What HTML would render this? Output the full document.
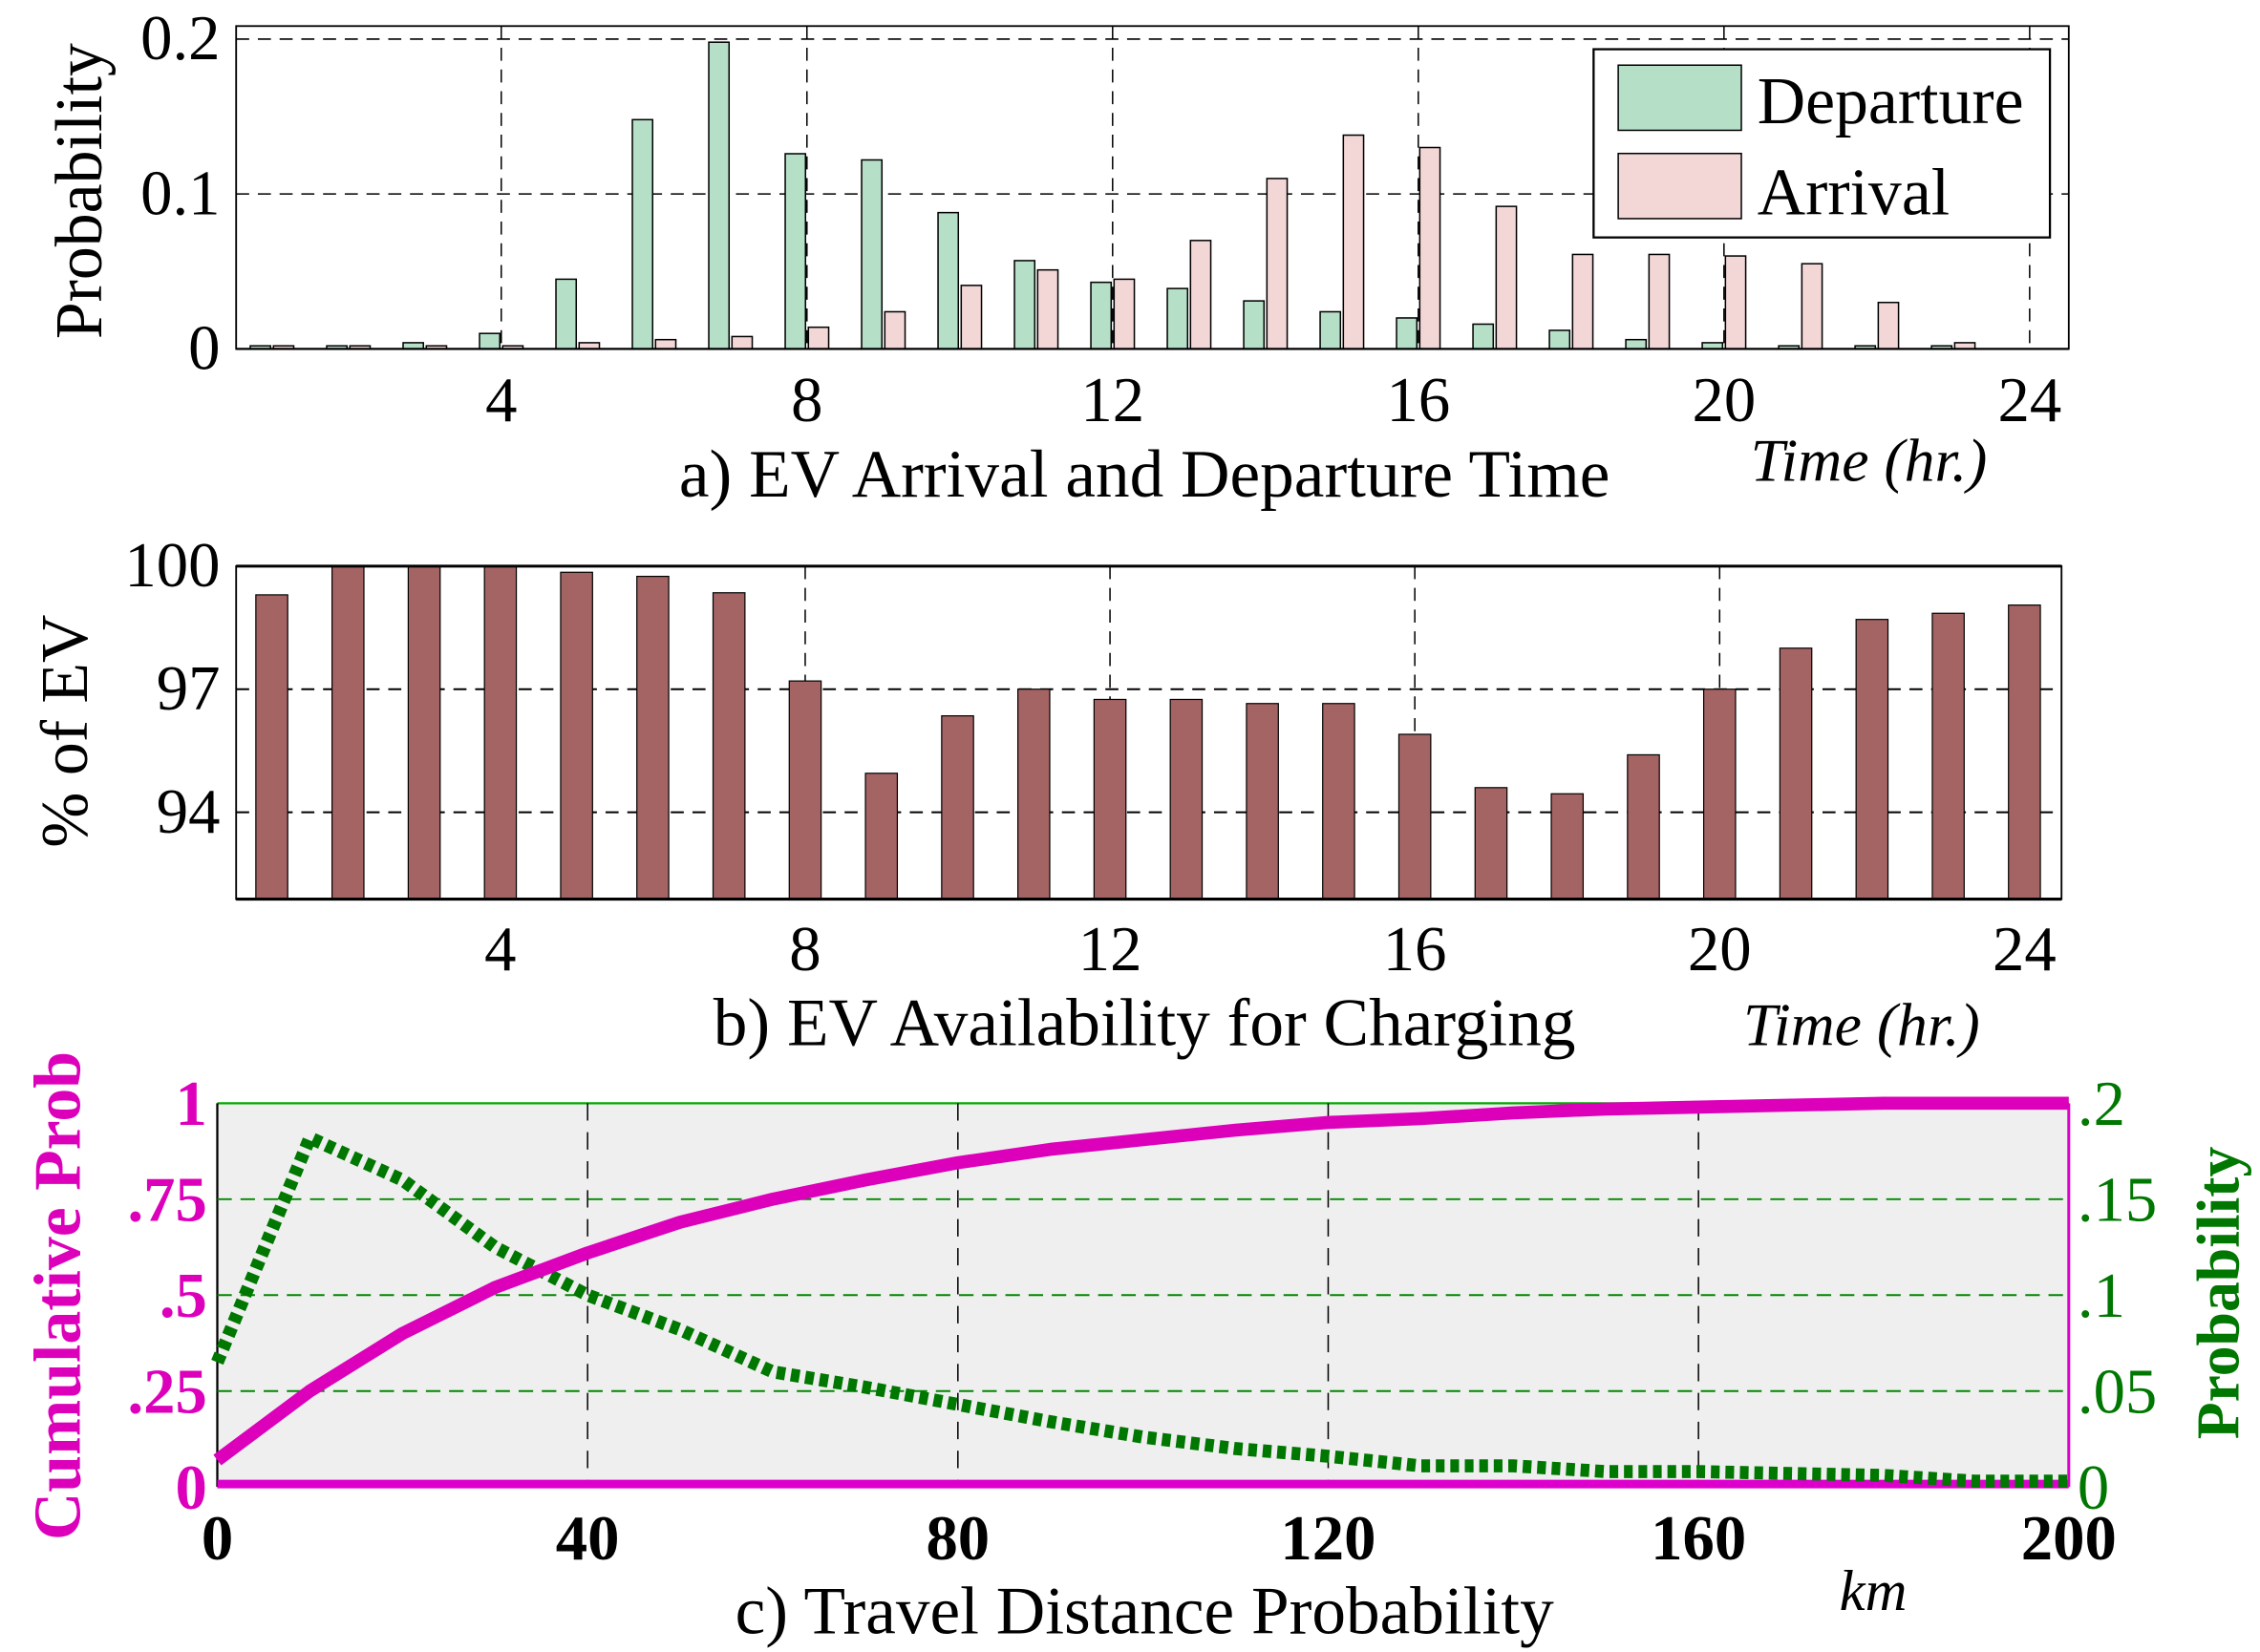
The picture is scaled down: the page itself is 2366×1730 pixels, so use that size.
<!DOCTYPE html>
<html><head><meta charset="utf-8"><style>
html,body{margin:0;padding:0;background:#fff}
svg{display:block}
text{font-family:"Liberation Serif",serif}
</style></head><body>
<svg id="chart" width="2366" height="1730" viewBox="0 0 1560 1141" preserveAspectRatio="none" xmlns="http://www.w3.org/2000/svg">
<g id="pa"></g>
<g id="pb"></g>
<g id="pc"></g>
</svg>
<script>
// Panel a data
const hoursA = [1,2,3,4,5,6,7,8,9,10,11,12,13,14,15,16,17,18,19,20,21,22,23];
const departure = [.002,.002,.004,.01,.045,.148,.198,.126,.122,.088,.057,.043,.039,.031,.024,.02,.016,.012,.006,.004,.002,.002,.002];
const arrival = [.002,.002,.002,.002,.004,.006,.008,.014,.024,.041,.051,.045,.07,.11,.138,.13,.092,.061,.061,.06,.055,.03,.004];
const ticksA = [4,8,12,16,20,24];
const yTicksA = [0,0.1,0.2];
const yLabelsA = ["0","0.1","0.2"];
// Panel b data
const hoursB = [1,2,3,4,5,6,7,8,9,10,11,12,13,14,15,16,17,18,19,20,21,22,23,24];
const availability = [99.3,100,100,100,99.85,99.75,99.35,97.2,94.95,96.35,97.0,96.75,96.75,96.65,96.65,95.9,94.6,94.45,95.4,97.0,98.0,98.7,98.85,99.05];
const yTicksB = [94,97,100];
// Panel c data
const km = [0,10,20,30,40,50,60,70,80,90,100,110,120,130,140,150,160,170,180,190,200];
const cumulative = [.07,.25,.4,.52,.61,.69,.75,.8,.845,.88,.905,.93,.95,.96,.975,.985,.99,.995,1,1,1];
const probability = [.065,.182,.16,.125,.1,.082,.06,.052,.043,.034,.026,.02,.016,.011,.011,.008,.008,.007,.006,.003,.003];
const ticksC = [0,40,80,120,160,200];
const yTicksCL = [0,.25,.5,.75,1];
const yLabelsCL = ["0",".25",".5",".75","1"];
const yTicksCR = [0,.05,.1,.15,.2];
const yLabelsCR = ["0",".05",".1",".15",".2"];

const NS="http://www.w3.org/2000/svg";
function mk(parent,tag,attrs,txt){const e=document.createElementNS(NS,tag);for(const k in attrs)e.setAttribute(k,attrs[k]);if(txt!==undefined)e.textContent=txt;parent.appendChild(e);return e;}

// ---------- Panel A ----------
const pa=document.getElementById('pa');
const xA=h=>135+52.75*h, yA=v=>241-v*1070;
mk(pa,'rect',{x:163,y:18,width:1265,height:223,fill:'#fff',stroke:'#000','stroke-width':1.2});
ticksA.forEach(t=>{const l=mk(pa,'line',{x1:xA(t),x2:xA(t),y1:18,y2:241,stroke:'#000','stroke-dasharray':'9 6','stroke-width':1});
});
yTicksA.forEach((t,i)=>{if(t>0){const l=mk(pa,'line',{x1:163,x2:1428,y1:yA(t),y2:yA(t),stroke:'#000','stroke-dasharray':'9 6','stroke-width':1});
}
const tx=mk(pa,'text',{x:152,y:yA(t)+14,'text-anchor':'end','font-size':44},yLabelsA[i]);
});
hoursA.forEach((h,i)=>{
 const d=mk(pa,'rect',{x:xA(h)-15,y:yA(departure[i]),width:14,height:241-yA(departure[i]),fill:'#b6dfc8',stroke:'#000','stroke-width':1});
 
 const a=mk(pa,'rect',{x:xA(h)+1,y:yA(arrival[i]),width:14,height:241-yA(arrival[i]),fill:'#f3d6d6',stroke:'#000','stroke-width':1});
 
});
mk(pa,'line',{x1:163,x2:1428,y1:241,y2:241,stroke:'#000','stroke-width':1.5});
ticksA.forEach(t=>{const tx=mk(pa,'text',{x:xA(t),y:291,'text-anchor':'middle','font-size':44},String(t));
});
{const lg=mk(pa,'g',{});
mk(lg,'rect',{x:1100,y:34,width:315,height:130,fill:'#fff',stroke:'#000','stroke-width':1.5});
mk(lg,'rect',{x:1117,y:45,width:85,height:45,fill:'#b6dfc8',stroke:'#000','stroke-width':1});
mk(lg,'text',{x:1213,y:85,'font-size':46},'Departure');
mk(lg,'rect',{x:1117,y:106,width:85,height:45,fill:'#f3d6d6',stroke:'#000','stroke-width':1});
mk(lg,'text',{x:1213,y:148,'font-size':46},'Arrival');}
mk(pa,'text',{x:0,y:0,'font-size':46,'text-anchor':'middle',transform:'translate(70,132) rotate(-90)'},'Probability');
mk(pa,'text',{x:790,y:343,'text-anchor':'middle','font-size':47},'a) EV Arrival and Departure Time');
mk(pa,'text',{x:1290,y:332,'text-anchor':'middle','font-size':42,'font-style':'italic'},'Time (hr.)');

// ---------- Panel B ----------
const pb=document.getElementById('pb');
const xB=h=>135+52.6*h, yB=v=>391+(100-v)*85/3;
mk(pb,'rect',{x:163,y:391,width:1260,height:230,fill:'#fff',stroke:'#000','stroke-width':1.2});
[8,12,16,20].forEach(t=>{const l=mk(pb,'line',{x1:xB(t),x2:xB(t),y1:391,y2:621,stroke:'#000','stroke-dasharray':'9 6','stroke-width':1});
});
yTicksB.forEach(t=>{if(t<100){const l=mk(pb,'line',{x1:163,x2:1423,y1:yB(t),y2:yB(t),stroke:'#000','stroke-dasharray':'9 6','stroke-width':1.3});
}
const tx=mk(pb,'text',{x:152,y:yB(t)+14,'text-anchor':'end','font-size':44},String(t));
});
hoursB.forEach((h,i)=>{const r=mk(pb,'rect',{x:xB(h)-11,y:yB(availability[i]),width:22,height:621-yB(availability[i]),fill:'#a56464',stroke:'#000','stroke-width':0.8});
});
mk(pb,'line',{x1:163,x2:1423,y1:391,y2:391,stroke:'#000','stroke-width':2});
mk(pb,'line',{x1:163,x2:1423,y1:621,y2:621,stroke:'#000','stroke-width':2});
[4,8,12,16,20,24].forEach(t=>{const tx=mk(pb,'text',{x:xB(t),y:670,'text-anchor':'middle','font-size':44},String(t));
});
mk(pb,'text',{x:0,y:0,'font-size':46,'text-anchor':'middle',transform:'translate(60,505) rotate(-90)'},'% of EV');
mk(pb,'text',{x:790,y:722,'text-anchor':'middle','font-size':47},'b) EV Availability for Charging');
mk(pb,'text',{x:1285,y:722,'text-anchor':'middle','font-size':42,'font-style':'italic'},'Time (hr.)');

// ---------- Panel C ----------
const pc=document.getElementById('pc');
const xC=k=>150+k*6.39, yCL=v=>1027-v*265, yCR=v=>1027-v*1325;
mk(pc,'rect',{x:150,y:762,width:1278,height:265,fill:'#efefef',stroke:'none'});
mk(pc,'line',{x1:150,x2:1428,y1:762,y2:762,stroke:'#0a0','stroke-width':1.5});
mk(pc,'line',{x1:150,x2:150,y1:762,y2:1027,stroke:'#000','stroke-width':1.5});
mk(pc,'line',{x1:1428,x2:1428,y1:762,y2:1027,stroke:'#d0c','stroke-width':2});
[40,80,120,160].forEach(t=>{const l=mk(pc,'line',{x1:xC(t),x2:xC(t),y1:762,y2:1027,stroke:'#000','stroke-dasharray':'12 8','stroke-width':1});
});
[.25,.5,.75].forEach(t=>{const l=mk(pc,'line',{x1:150,x2:1428,y1:yCL(t),y2:yCL(t),stroke:'#080','stroke-dasharray':'10 6','stroke-width':1.3});
});
mk(pc,'line',{x1:150,x2:1428,y1:1025,y2:1025,stroke:'#d0c','stroke-width':6});
const pp=mk(pc,'polyline',{points:km.map((k,i)=>xC(k)+','+yCR(probability[i])).join(' '),fill:'none',stroke:'#007700','stroke-width':9,'stroke-dasharray':'6 4'});

const cp=mk(pc,'polyline',{points:km.map((k,i)=>xC(k)+','+yCL(cumulative[i])).join(' '),fill:'none',stroke:'#dd00bb','stroke-width':9,'stroke-linejoin':'round'});

yTicksCL.forEach((t,i)=>{const tx=mk(pc,'text',{x:143,y:yCL(t)+15,'text-anchor':'end','font-size':44,fill:'#dd00bb','font-weight':'bold'},yLabelsCL[i]);
});
yTicksCR.forEach((t,i)=>{const tx=mk(pc,'text',{x:1434,y:yCR(t)+15,'text-anchor':'start','font-size':44,fill:'#007700'},yLabelsCR[i]);
});
ticksC.forEach(t=>{const tx=mk(pc,'text',{x:xC(t),y:1077,'text-anchor':'middle','font-size':44,'font-weight':'bold'},String(t));
});
mk(pc,'text',{x:0,y:0,'font-size':46,'font-weight':'bold',fill:'#dd00bb','text-anchor':'middle',transform:'translate(55,895) rotate(-90)'},'Cumulative Prob');
mk(pc,'text',{x:0,y:0,'font-size':42,'font-weight':'bold',fill:'#007700','text-anchor':'middle',transform:'translate(1545,893) rotate(-90)'},'Probability');
mk(pc,'text',{x:790,y:1128,'text-anchor':'middle','font-size':47},'c) Travel Distance Probability');
mk(pc,'text',{x:1293,y:1112,'text-anchor':'middle','font-size':40,'font-style':'italic'},'km');
</script>
</body></html>
